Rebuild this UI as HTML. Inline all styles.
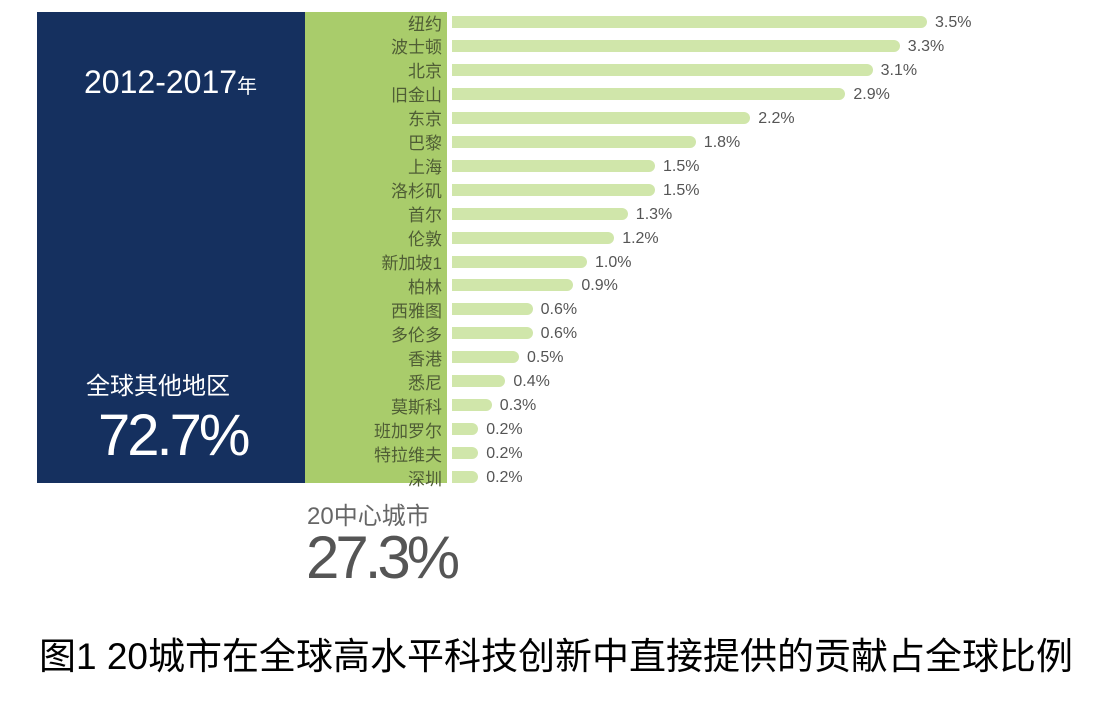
<!DOCTYPE html>
<html><head><meta charset="utf-8"><style>
body{margin:0;width:1112px;height:710px;background:#fff;overflow:hidden;font-family:"Liberation Sans","Noto Sans CJK SC",sans-serif;position:relative}
.a{position:absolute;white-space:nowrap}
</style></head><body>
<div class="a" style="left:37px;top:12px;width:268px;height:471px;background:#15305f"></div>
<div class="a" style="left:305px;top:12px;width:142px;height:471px;background:#a9cc6b"></div>
<div class="a" style="left:84px;top:64px;color:#fff;font-size:32px;letter-spacing:0px">2012-2017<span style="font-size:20px">年</span></div>
<div class="a" style="left:86px;top:366px;color:#fff;font-size:24px">全球其他地区</div>
<div class="a" style="left:98px;top:402px;color:#fff;font-size:58px;letter-spacing:-3px">72.7%</div>
<div class="a" style="left:307px;top:496px;color:#666;font-size:24px">20中心城市</div>
<div class="a" style="left:306px;top:523px;color:#555;font-size:60px;letter-spacing:-4px">27.3%</div>
<div class="a" style="left:0;width:1112px;text-align:center;top:626px;color:#000;font-size:37px">图1 20城市在全球高水平科技创新中直接提供的贡献占全球比例</div>
<div id="c"></div>
<script>
var d=[["纽约",3.5],["波士顿",3.3],["北京",3.1],["旧金山",2.9],["东京",2.2],["巴黎",1.8],["上海",1.5],["洛杉矶",1.5],["首尔",1.3],["伦敦",1.2],["新加坡1",1.0],["柏林",0.9],["西雅图",0.6],["多伦多",0.6],["香港",0.5],["悉尼",0.4],["莫斯科",0.3],["班加罗尔",0.2],["特拉维夫",0.2],["深圳",0.2]];
var h="";
d.forEach(function(r,i){var y=22+i*23.95;var e=451+136*r[1];
h+='<div class="a" style="right:'+(1112-442)+'px;top:'+(y-12.5)+'px;font-size:17px;color:#4f5d35">'+r[0]+'</div>';
h+='<div class="a" style="left:452px;top:'+(y-6)+'px;width:'+(e-452)+'px;height:12px;background:#d0e6aa;border-radius:0 6px 6px 0"></div>';
h+='<div class="a" style="left:'+(e+8)+'px;top:'+(y-8)+'px;font-size:16px;color:#555">'+r[1].toFixed(1)+'%</div>';});
document.getElementById("c").innerHTML=h;
</script>
</body></html>
